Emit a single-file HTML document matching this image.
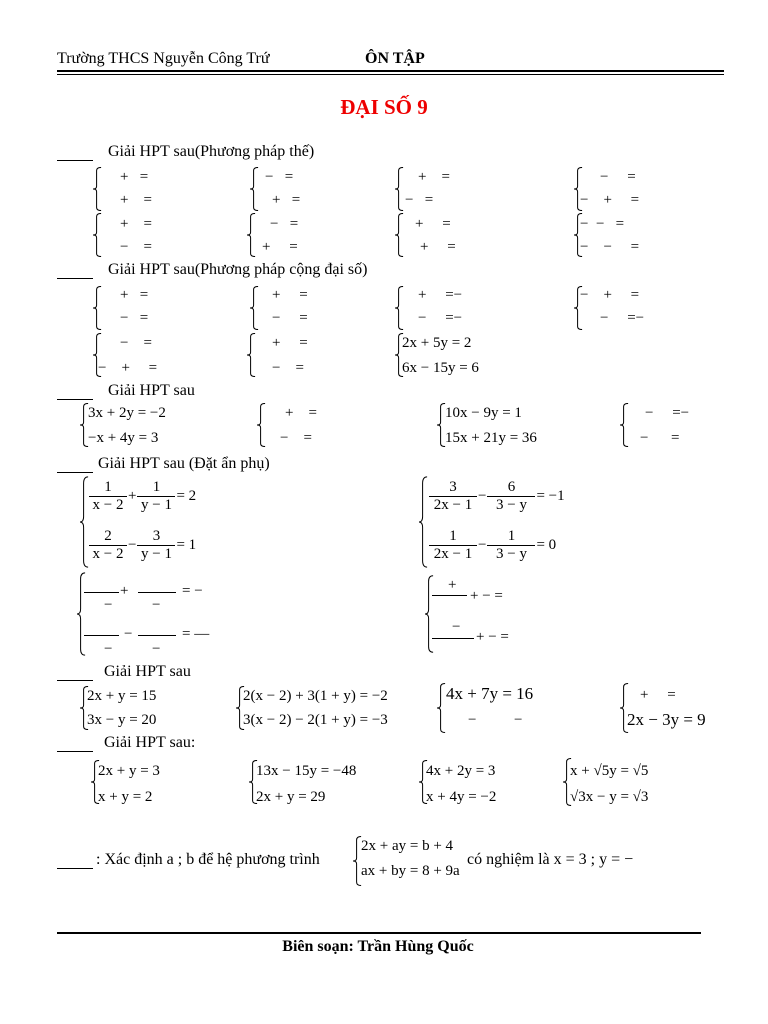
<!DOCTYPE html>
<html><head><meta charset="utf-8"><style>
body{margin:0;width:768px;height:1024px;background:#fff;position:relative;overflow:hidden;font-family:"Liberation Serif",serif;color:#000}
.t{position:absolute;font-size:15px;line-height:18px;white-space:pre}
.s{position:absolute;font-size:16px;line-height:18px;white-space:pre}
.br{position:absolute;width:9px}
.bl{position:absolute;width:36px;border-top:1px solid #000}
.f{display:inline-flex;flex-direction:column;align-items:center;vertical-align:middle;font-size:15px;line-height:17px;margin:0 1px}
.f span:first-child{border-bottom:1px solid #000;padding:0 4px;min-width:40px;text-align:center}
.row{position:absolute;font-size:15px;white-space:pre;display:flex;align-items:center}
</style></head><body>
<svg width="0" height="0" style="position:absolute"><defs><symbol id="b" viewBox="0 0 10 100" preserveAspectRatio="none"><path d="M9,1 Q4,1 4,8 L4,44 Q4,50 0,50 Q4,50 4,56 L4,92 Q4,99 9,99" fill="none" stroke="#000" stroke-width="1" vector-effect="non-scaling-stroke"/></symbol></defs></svg>

<div class="t" style="left:57px;top:50px;font-size:16px">Trường THCS Nguyễn Công Trứ</div>
<div class="t" style="left:365px;top:50px;font-size:16px;font-weight:bold">ÔN TẬP</div>
<div style="position:absolute;left:57px;top:70px;width:667px;border-top:2px solid #000"></div>
<div style="position:absolute;left:57px;top:74px;width:667px;border-top:1px solid #000"></div>
<div class="t" style="left:0;width:768px;text-align:center;top:95px;font-size:21px;line-height:24px;color:#e00;font-weight:bold">ĐẠI SỐ 9</div>

<!-- Section 1 -->
<div class="bl" style="left:57px;top:160px"></div>
<div class="t" style="left:108px;top:143px;font-size:16px">Giải HPT sau(Phương pháp thế)</div>
<svg class="br" style="left:93px;top:167px;height:44px"><use href="#b" width="9" height="44"/></svg>
<div class="t" style="left:120px;top:168px">+   =</div><div class="t" style="left:120px;top:191px">+    =</div>
<svg class="br" style="left:250px;top:167px;height:44px"><use href="#b" width="9" height="44"/></svg>
<div class="t" style="left:265px;top:168px">−   =</div><div class="t" style="left:272px;top:191px">+   =</div>
<svg class="br" style="left:395px;top:167px;height:44px"><use href="#b" width="9" height="44"/></svg>
<div class="t" style="left:418px;top:168px">+    =</div><div class="t" style="left:405px;top:191px">−   =</div>
<svg class="br" style="left:574px;top:167px;height:44px"><use href="#b" width="9" height="44"/></svg>
<div class="t" style="left:600px;top:168px">−     =</div><div class="t" style="left:580px;top:191px">−    +     =</div>

<svg class="br" style="left:93px;top:213px;height:44px"><use href="#b" width="9" height="44"/></svg>
<div class="t" style="left:120px;top:215px">+    =</div><div class="t" style="left:120px;top:238px">−    =</div>
<svg class="br" style="left:247px;top:213px;height:44px"><use href="#b" width="9" height="44"/></svg>
<div class="t" style="left:270px;top:215px">−   =</div><div class="t" style="left:262px;top:238px">+     =</div>
<svg class="br" style="left:395px;top:213px;height:44px"><use href="#b" width="9" height="44"/></svg>
<div class="t" style="left:415px;top:215px">+     =</div><div class="t" style="left:420px;top:238px">+     =</div>
<svg class="br" style="left:574px;top:213px;height:44px"><use href="#b" width="9" height="44"/></svg>
<div class="t" style="left:580px;top:215px">−  −   =</div><div class="t" style="left:580px;top:238px">−    −     =</div>

<!-- Section 2 -->
<div class="bl" style="left:57px;top:278px"></div>
<div class="t" style="left:108px;top:261px;font-size:16px">Giải HPT sau(Phương pháp cộng đại số)</div>
<svg class="br" style="left:93px;top:286px;height:44px"><use href="#b" width="9" height="44"/></svg>
<div class="t" style="left:120px;top:286px">+   =</div><div class="t" style="left:120px;top:309px">−   =</div>
<svg class="br" style="left:250px;top:286px;height:44px"><use href="#b" width="9" height="44"/></svg>
<div class="t" style="left:272px;top:286px">+     =</div><div class="t" style="left:272px;top:309px">−     =</div>
<svg class="br" style="left:395px;top:286px;height:44px"><use href="#b" width="9" height="44"/></svg>
<div class="t" style="left:418px;top:286px">+     =−</div><div class="t" style="left:418px;top:309px">−     =−</div>
<svg class="br" style="left:574px;top:286px;height:44px"><use href="#b" width="9" height="44"/></svg>
<div class="t" style="left:580px;top:286px">−    +     =</div><div class="t" style="left:600px;top:309px">−     =−</div>

<svg class="br" style="left:93px;top:333px;height:44px"><use href="#b" width="9" height="44"/></svg>
<div class="t" style="left:120px;top:334px">−    =</div><div class="t" style="left:98px;top:359px">−    +     =</div>
<svg class="br" style="left:247px;top:333px;height:44px"><use href="#b" width="9" height="44"/></svg>
<div class="t" style="left:272px;top:334px">+     =</div><div class="t" style="left:272px;top:359px">−    =</div>
<svg class="br" style="left:395px;top:333px;height:44px"><use href="#b" width="9" height="44"/></svg>
<div class="t" style="left:402px;top:334px">2x + 5y = 2</div><div class="t" style="left:402px;top:359px">6x − 15y = 6</div>

<!-- Section 3 -->
<div class="bl" style="left:57px;top:399px"></div>
<div class="t" style="left:108px;top:382px;font-size:16px">Giải HPT sau</div>
<svg class="br" style="left:80px;top:403px;height:44px"><use href="#b" width="9" height="44"/></svg>
<div class="t" style="left:88px;top:404px">3x + 2y = −2</div><div class="t" style="left:88px;top:429px">−x + 4y = 3</div>
<svg class="br" style="left:257px;top:403px;height:44px"><use href="#b" width="9" height="44"/></svg>
<div class="t" style="left:285px;top:404px">+    =</div><div class="t" style="left:280px;top:429px">−    =</div>
<svg class="br" style="left:437px;top:403px;height:44px"><use href="#b" width="9" height="44"/></svg>
<div class="t" style="left:445px;top:404px">10x − 9y = 1</div><div class="t" style="left:445px;top:429px">15x + 21y = 36</div>
<svg class="br" style="left:620px;top:403px;height:44px"><use href="#b" width="9" height="44"/></svg>
<div class="t" style="left:645px;top:404px">−     =−</div><div class="t" style="left:640px;top:429px">−      =</div>

<!-- Section 4 -->
<div class="bl" style="left:57px;top:472px"></div>
<div class="t" style="left:98px;top:455px;font-size:16px">Giải HPT sau (Đặt ẩn phụ)</div>
<svg class="br" style="left:80px;top:476px;height:92px"><use href="#b" width="9" height="92"/></svg>
<div class="row" style="left:88px;top:478px;height:36px"><span class="f"><span style="min-width:30px">1</span><span>x − 2</span></span>+<span class="f"><span style="min-width:30px">1</span><span>y − 1</span></span>= 2</div>
<div class="row" style="left:88px;top:527px;height:36px"><span class="f"><span style="min-width:30px">2</span><span>x − 2</span></span>−<span class="f"><span style="min-width:30px">3</span><span>y − 1</span></span>= 1</div>
<svg class="br" style="left:419px;top:476px;height:92px"><use href="#b" width="9" height="92"/></svg>
<div class="row" style="left:428px;top:478px;height:36px"><span class="f"><span>3</span><span>2x − 1</span></span>−<span class="f"><span>6</span><span>3 − y</span></span>= −1</div>
<div class="row" style="left:428px;top:527px;height:36px"><span class="f"><span>1</span><span>2x − 1</span></span>−<span class="f"><span>1</span><span>3 − y</span></span>= 0</div>

<svg class="br" style="left:77px;top:572px;height:84px"><use href="#b" width="9" height="84"/></svg>
<div style="position:absolute;left:84px;top:592px;width:35px;border-top:1px solid #000"></div>
<div class="t" style="left:120px;top:582px">+</div>
<div style="position:absolute;left:138px;top:592px;width:38px;border-top:1px solid #000"></div>
<div class="t" style="left:182px;top:582px">= −</div>
<div class="t" style="left:104px;top:596px">−</div><div class="t" style="left:152px;top:596px">−</div>
<div style="position:absolute;left:84px;top:635px;width:35px;border-top:1px solid #000"></div>
<div class="t" style="left:124px;top:625px">−</div>
<div style="position:absolute;left:138px;top:635px;width:38px;border-top:1px solid #000"></div>
<div class="t" style="left:182px;top:625px">= —</div>
<div class="t" style="left:104px;top:640px">−</div><div class="t" style="left:152px;top:640px">−</div>
<svg class="br" style="left:425px;top:575px;height:78px"><use href="#b" width="9" height="78"/></svg>
<div class="t" style="left:448px;top:576px">+</div>
<div style="position:absolute;left:432px;top:595px;width:35px;border-top:1px solid #000"></div>
<div class="t" style="left:470px;top:587px">+ − =</div>
<div class="t" style="left:452px;top:618px">−</div>
<div style="position:absolute;left:432px;top:638px;width:42px;border-top:1px solid #000"></div>
<div class="t" style="left:476px;top:628px">+ − =</div>

<!-- Section 5 -->
<div class="bl" style="left:57px;top:680px"></div>
<div class="t" style="left:104px;top:663px;font-size:16px">Giải HPT sau</div>
<svg class="br" style="left:80px;top:686px;height:44px"><use href="#b" width="9" height="44"/></svg>
<div class="t" style="left:87px;top:687px">2x + y = 15</div><div class="t" style="left:87px;top:711px">3x − y = 20</div>
<svg class="br" style="left:236px;top:686px;height:44px"><use href="#b" width="9" height="44"/></svg>
<div class="t" style="left:243px;top:687px">2(x − 2) + 3(1 + y) = −2</div><div class="t" style="left:243px;top:711px">3(x − 2) − 2(1 + y) = −3</div>
<svg class="br" style="left:437px;top:683px;height:50px"><use href="#b" width="9" height="50"/></svg>
<div class="s" style="left:446px;top:685px;font-size:17px">4x + 7y = 16</div><div class="t" style="left:468px;top:711px">−          −</div>
<svg class="br" style="left:620px;top:683px;height:50px"><use href="#b" width="9" height="50"/></svg>
<div class="t" style="left:640px;top:686px">+     =</div><div class="s" style="left:627px;top:711px;font-size:17px">2x − 3y = 9</div>

<!-- Section 6 -->
<div class="bl" style="left:57px;top:751px"></div>
<div class="t" style="left:104px;top:734px;font-size:16px">Giải HPT sau:</div>
<svg class="br" style="left:91px;top:760px;height:44px"><use href="#b" width="9" height="44"/></svg>
<div class="t" style="left:98px;top:762px">2x + y = 3</div><div class="t" style="left:98px;top:788px">x + y = 2</div>
<svg class="br" style="left:249px;top:760px;height:44px"><use href="#b" width="9" height="44"/></svg>
<div class="t" style="left:256px;top:762px">13x − 15y = −48</div><div class="t" style="left:256px;top:788px">2x + y = 29</div>
<svg class="br" style="left:419px;top:760px;height:44px"><use href="#b" width="9" height="44"/></svg>
<div class="t" style="left:426px;top:762px">4x + 2y = 3</div><div class="t" style="left:426px;top:788px">x + 4y = −2</div>
<svg class="br" style="left:563px;top:758px;height:48px"><use href="#b" width="9" height="48"/></svg>
<div class="t" style="left:570px;top:762px">x + √5y = √5</div><div class="t" style="left:570px;top:788px">√3x − y = √3</div>

<!-- Final -->
<div class="bl" style="left:57px;top:868px"></div>
<div class="t" style="left:96px;top:851px;font-size:16px">: Xác định a ; b để hệ phương trình</div>
<svg class="br" style="left:353px;top:836px;height:50px"><use href="#b" width="9" height="50"/></svg>
<div class="t" style="left:361px;top:837px">2x + ay = b + 4</div><div class="t" style="left:361px;top:862px">ax + by = 8 + 9a</div>
<div class="t" style="left:467px;top:851px;font-size:16px">có nghiệm là x = 3 ; y = −</div>

<div style="position:absolute;left:57px;top:932px;width:644px;border-top:2px solid #000"></div>
<div class="t" style="left:0;width:756px;text-align:center;top:938px;font-size:16px;font-weight:bold">Biên soạn: Trần Hùng Quốc</div>
</body></html>
